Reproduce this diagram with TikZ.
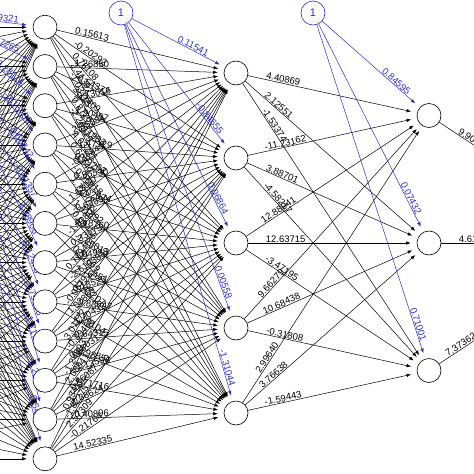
\documentclass[tikz,border=0pt]{standalone}
\usepackage{fontspec}
\setmainfont{Liberation Sans}
\usetikzlibrary{arrows.meta, backgrounds}
\definecolor{biasblue}{RGB}{45,45,205}

\begin{document}
\begin{tikzpicture}
		[
			x=1pt, y=-1pt,
			unit/.style={circle, draw, fill=white, line width=0.6pt, minimum size=24pt, inner sep=0pt},
			biasunit/.style={unit, draw=biasblue, text=biasblue, font=\fontsize{11}{11}\selectfont},
			synapse/.style={line width=0.5pt, -{Latex[length=4.5pt,width=3.5pt]}, shorten >=6pt},
			biassynapse/.style={synapse, draw=biasblue},
			weight/.style={sloped, anchor=south west, inner sep=0.5pt, font=\fontsize{9.5}{9.5}\selectfont},
			biasweight/.style={weight, text=biasblue},
		]

		\useasboundingbox (0,0) rectangle (474,474);
		\clip (0,0) rectangle (474,474);

		% Nodes
		\foreach \name/\y in
		{
			1/27.2, 2/66.5, 3/105.7, 4/144.9, 5/184.2, 6/223.4,
			7/262.6, 8/301.8, 9/341.1, 10/380.3, 11/419.5, 12/458.8}
		{
			\node[unit] (i\name) at (-147,\y) {};
			\node[unit] (a\name) at (45,\y) {};
		}
		\foreach \name/\y in {1/73, 2/158, 3/243, 4/328, 5/413}
			\node[unit] (b\name) at (236,\y) {};
		\foreach \name/\y in {1/115.5, 2/243, 3/370.5}
			\node[unit] (c\name) at (429,\y) {};
		\node[unit] (out) at (622,243) {};

		% Bias units
		\foreach \name/\x in {0/-70, 1/121, 2/313, 3/506}
			\node[biasunit] (bias\name) at (\x,13) {1};

		\begin{scope}[on background layer]
		% Edges into the first layer
		\foreach \u in {1,...,12}
			\foreach \v in {1,...,12}
				\draw[synapse] (i\u) -- (a\v);

		\foreach \v/\p/\w in
		{
			1/0.42/-0.49321, 2/0.48/1.07265, 3/0.57/0.28114, 4/0.65/-2.15730,
			5/0.71/0.66842, 6/0.75/-0.91357, 7/0.79/1.38906, 8/0.82/0.12478,
			9/0.84/-0.79856, 10/0.85/1.71762, 11/0.87/-1.23167, 12/0.88/0.54409}
			\draw[biassynapse] (bias0) -- node[biasweight, pos=\p] {\w} (a\v);

		% Edges into the second layer
		\foreach \u/\ws in
		{
			1/{0.15613,-0.20292,0.76108,2.41397,-1.03755},
			2/{1.26850,-0.54372,3.11409,0.87263,-2.20519},
			3/{-0.73016,1.90457,-0.11983,4.03271,0.62740},
			4/{2.35084,-1.47129,0.39262,-0.96618,1.77305},
			5/{-0.28841,0.95530,-3.02674,1.41892,0.08456},
			6/{1.63027,-0.67394,2.18760,-1.25013,0.51669},
			7/{-1.91802,0.33175,1.04938,2.76451,-0.45207},
			8/{0.72946,-2.61038,0.18523,-0.83647,3.29104},
			9/{-0.05791,1.52869,-1.70432,0.64315,-2.98856},
			10/{3.01172,-0.39468,0.88031,-1.13590,1.71716},
			11/{-1.24503,2.08941,-0.56087,1.36624,0.40896},
			12/{0.93418,-1.82275,2.57309,-0.21764,14.52335}}
			\foreach \w [count=\v] in \ws
				\draw[synapse] (a\u) -- node[weight, pos=0.1] {\w} (b\v);

		\foreach \v/\p/\w in
		{
			1/0.47/0.11541, 2/0.66/-0.84655, 3/0.77/0.06864,
			4/0.83/0.00558, 5/0.865/-1.31044}
			\draw[biassynapse] (bias1) -- node[biasweight, pos=\p] {\w} (b\v);

		% Edges into the third layer
		\foreach \u/\ws in
		{
			1/{4.40869,2.12551,-1.53374},
			2/{-11.23162,3.88701,-4.58217},
			3/{12.88941,12.63715,-3.47195},
			4/{9.66279,10.68438,-0.31808},
			5/{2.99640,3.76638,-1.59443}}
			\foreach \w [count=\v] in \ws
				\draw[synapse] (b\u) -- node[weight, pos=0.1] {\w} (c\v);

		\foreach \v/\p/\w in {1/0.595/0.84595, 2/0.77/0.07432, 3/0.85/0.71001}
			\draw[biassynapse] (bias2) -- node[biasweight, pos=\p] {\w} (c\v);

		% Edges into the output
		\foreach \u/\p/\w in {1/0.1/9.90652, 2/0.1/4.61937, 3/0.05/7.37362}
			\draw[synapse] (c\u) -- node[weight, pos=\p] {\w} (out);
		\draw[biassynapse] (bias3) -- (out);
		\end{scope}

		\end{tikzpicture}
\end{document}
